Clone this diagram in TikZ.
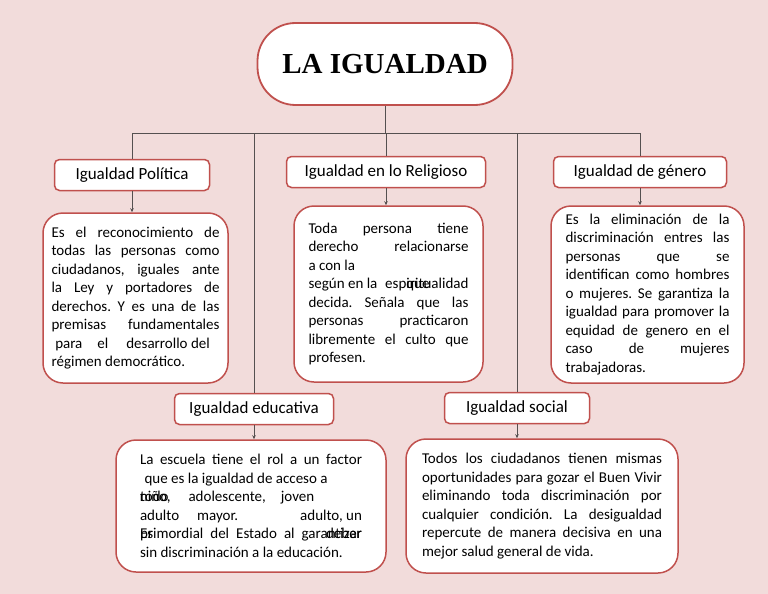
\documentclass[tikz,border=0pt]{standalone}
\usepackage{fontspec}
\setmainfont{Carlito}
\newfontfamily\titlefont{Liberation Serif}
\usetikzlibrary{arrows.meta}
\definecolor{fondo}{HTML}{F2DCDB}
\definecolor{borde}{HTML}{C0504D}
\definecolor{linea}{HTML}{555050}
\tolerance=9999
\frenchspacing
\begin{document}
\begin{tikzpicture}[x=1pt,y=-1pt,
    titulo/.style={draw=borde, line width=1.8pt, fill=white, rounded corners=38pt,
        minimum width=255pt, minimum height=82pt, font=\titlefont\bfseries\fontsize{29}{31}\selectfont},
    etiqueta/.style={draw=borde, line width=1.5pt, fill=white, rounded corners=5pt,
        minimum height=31pt, inner sep=0pt, font=\fontsize{17}{20}\selectfont},
    texto/.style={draw=borde, line width=1.5pt, fill=white, rounded corners=20pt,
        inner sep=0pt, align=justify, font=\fontsize{15}{18.5}\selectfont},
    enlace/.style={draw=linea, line width=0.9pt},
    flecha/.style={draw=linea, line width=0.9pt, -{Stealth[length=4pt,width=3.5pt]}}]
    \fill[fondo] (0,0) rectangle (768,594);
    \useasboundingbox (0,0) rectangle (768,594);

    % titulo
    \node[titulo] (tit) at (385,64) {LA IGUALDAD};

    % etiquetas
    \node[etiqueta, minimum width=155pt] (pol) at (132,175) {Igualdad Política};
    \node[etiqueta, minimum width=199pt] (rel) at (386,172) {Igualdad en lo Religioso};
    \node[etiqueta, minimum width=173pt] (gen) at (640,172) {Igualdad de género};
    \node[etiqueta, minimum width=159pt] (edu) at (254,409) {Igualdad educativa};
    \node[etiqueta, minimum width=145pt] (soc) at (517,408) {Igualdad social};

    % textos
    \node[texto, minimum width=185pt, minimum height=170pt, text width=168pt] (tpol) at (135.5,298)
        {Es el reconocimiento de\linebreak
         todas las personas como\linebreak
         ciudadanos, iguales ante\linebreak
         la Ley y portadores de\linebreak
         derechos. Y es una de las\linebreak
         premisas fundamentales\linebreak
         \hspace*{0.25em}para\hspace{1em}el\hspace{1.2em}desarrollo del\newline
         régimen democrático.};
    \node[texto, minimum width=189pt, minimum height=176pt, text width=160pt] (trel) at (388.5,294)
        {Toda persona tiene\linebreak
         derecho relacionarse\linebreak
         a con la\newline
         según en la\hfill\llap{que\hspace{2.6em}}\llap{espiritualidad}\newline
         decida. Señala que las\linebreak
         personas practicaron\linebreak
         libremente el culto que\linebreak
         profesen.};
    \node[texto, minimum width=193pt, minimum height=177pt, text width=164pt] (tgen) at (647.5,294.5)
        {Es la eliminación de la\linebreak
         discriminación entres las\linebreak
         personas que se\linebreak
         identifican como hombres\linebreak
         o mujeres. Se garantiza la\linebreak
         igualdad para promover la\linebreak
         equidad de genero en el\linebreak
         caso de mujeres\hspace{1.5em}\linebreak
         trabajadoras.};
    \node[texto, minimum width=270pt, minimum height=132pt, text width=222pt] (tedu) at (251,506)
        {La escuela tiene el rol a un factor\linebreak
         \hspace*{0.3em}que es la igualdad de acceso a\newline
         \rlap{todo}niño,\hspace{1.2em}adolescente,\hspace{1em}joven\newline
         adulto\hspace{1.2em}mayor.\hfill adulto, un\newline
         \rlap{Es}primordial del Estado al garantizar\llap{deber}\linebreak
         sin discriminación a la educación.};
    \node[texto, minimum width=272pt, minimum height=134pt, text width=240pt] (tsoc) at (542,506)
        {Todos los ciudadanos tienen mismas\linebreak
         oportunidades para gozar el Buen Vivir\linebreak
         eliminando toda discriminación por\linebreak
         cualquier condición. La desigualdad\linebreak
         repercute de manera decisiva en una\linebreak
         mejor salud general de vida.};

    % conectores
    \coordinate (eje) at (386,133);
    \draw[enlace] (tit.south) -- (tit.south |- eje);
    \draw[enlace] (pol.north |- eje) -- (gen.north |- eje);
    \foreach \n in {pol,rel,gen,edu,soc}
        \draw[enlace] (\n.north |- eje) -- (\n.north);
    \foreach \a/\b in {pol/tpol, rel/trel, gen/tgen, edu/tedu, soc/tsoc}
        \draw[flecha] (\a.south) -- (\a.south |- \b.north);
\end{tikzpicture}
\end{document}
